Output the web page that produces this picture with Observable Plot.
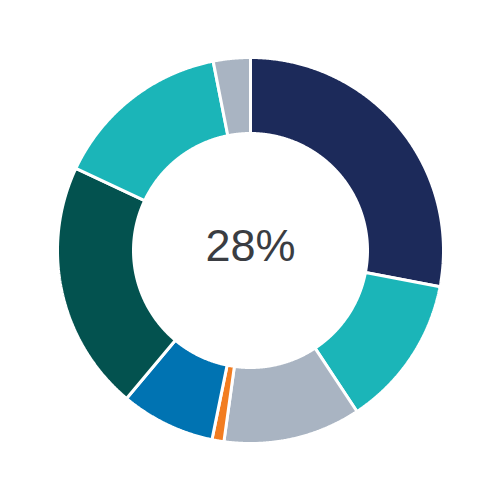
<!DOCTYPE html>
<html>
<head>
<meta charset="utf-8">
<script src="https://cdn.jsdelivr.net/npm/d3@7"></script>
<script src="https://cdn.jsdelivr.net/npm/@observablehq/plot@0.6"></script>
<style>
  html, body { margin: 0; padding: 0; background: #fff; }
  #chart { width: 500px; height: 500px; }
</style>
</head>
<body>
<div id="chart"></div>
<script>
const categories = ["Navy", "Teal A", "Gray A", "Orange", "Blue", "Dark teal", "Teal B", "Gray B"];
const shares = [28, 12.7, 11.5, 1.0, 7.9, 20.9, 14.9, 3.1];
const palette = ["#1c2a5a", "#1bb5b8", "#a9b4c2", "#f27d21", "#0073b2", "#03524f", "#1bb5b8", "#a9b4c2"];
const centerLabel = "28%";

const W = 500, H = 500, CX = 250, CY = 250, R_OUT = 193, R_IN = 117;

// Build donut slices from the data with d3.pie, as polygon geometries in pixel space
const pieArcs = d3.pie().sort(null).value(d => d.share)(
  categories.map((c, i) => ({category: c, share: shares[i]}))
);
function ringPoint(r, a) { return [CX + r * Math.sin(a), CY - r * Math.cos(a)]; }
const slices = pieArcs.map(p => {
  const n = Math.max(4, Math.ceil((p.endAngle - p.startAngle) / 0.005));
  const ring = [];
  for (let k = 0; k <= n; k++) ring.push(ringPoint(R_OUT, p.startAngle + (p.endAngle - p.startAngle) * k / n));
  for (let k = n; k >= 0; k--) ring.push(ringPoint(R_IN, p.startAngle + (p.endAngle - p.startAngle) * k / n));
  ring.push(ring[0]);
  return {type: "Feature", properties: {category: p.data.category}, geometry: {type: "Polygon", coordinates: [ring]}};
});

const chart = Plot.plot({
  width: W,
  height: H,
  margin: 0,
  projection: "identity",
  color: {domain: categories, range: palette},
  style: {background: "#fff"},
  marks: [
    Plot.geo(slices, {
      fill: d => d.properties.category,
      stroke: "#fff",
      strokeWidth: 3,
      strokeLinejoin: "miter"
    }),
    Plot.text([centerLabel], {
      text: d => d,
      frameAnchor: "middle",
      dy: -4,
      fontSize: 45,
      fontFamily: "Liberation Sans, Arial, sans-serif",
      fill: "#3a3d42"
    })
  ]
});
document.getElementById("chart").append(chart);
</script>
</body>
</html>
